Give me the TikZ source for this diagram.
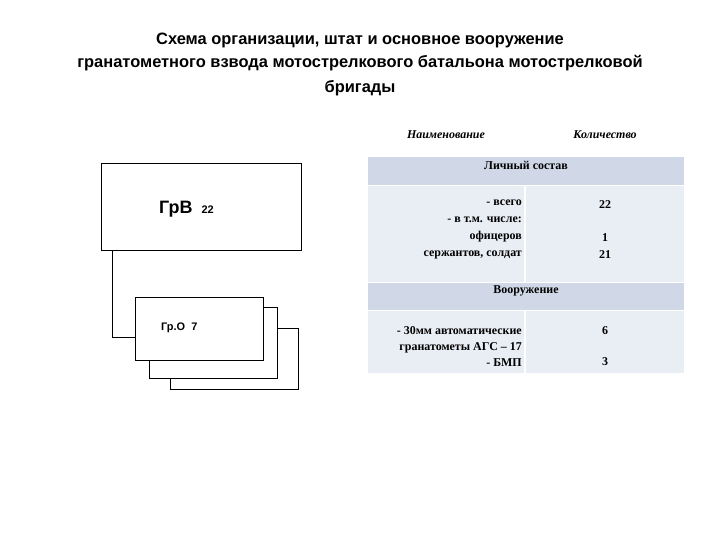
\documentclass[tikz,border=0pt]{standalone}
\usepackage{fontspec}
\setmainfont{Liberation Serif}
\newfontfamily\sansf{Liberation Sans}
\definecolor{band}{HTML}{D0D8E8}
\definecolor{cell}{HTML}{E9EDF4}
\begin{document}
\begin{tikzpicture}[x=1bp,y=-1bp,
  box/.style={draw,fill=white,line width=0.8bp},
  tt/.style={font=\fontsize{12}{14}\selectfont\bfseries,inner sep=0},
  ttl/.style={font=\sansf\bfseries\fontsize{16.5}{20}\selectfont,inner sep=0}]
\useasboundingbox (0,0) rectangle (720,540);
\node[ttl] (t1) at (360,40) {Схема организации, штат и основное вооружение};
\node[ttl] (t2) at (360,63) {гранатометного взвода мотострелкового батальона мотострелковой};
\node[ttl] (t3) at (360,88) {бригады};
% table
\fill[band] (368,157) rectangle (684,185);
\fill[cell] (368,186) rectangle (524,282);
\fill[cell] (526,186) rectangle (684,282);
\fill[band] (368,283) rectangle (684,310);
\fill[cell] (368,311) rectangle (524,373);
\fill[cell] (526,311) rectangle (684,373);
\node[tt,font=\fontsize{12}{14}\selectfont\bfseries\itshape] (h1) at (446,135) {Наименование};
\node[tt,font=\fontsize{12}{14}\selectfont\bfseries\itshape] (h2) at (605,135) {Количество};
\node[tt] (s1) at (526,165) {Личный состав};
\node[tt,align=right,anchor=north east,font=\fontsize{12}{17}\selectfont\bfseries] (r1) at (522,200) {- всего\\- в т.м. числе:\\офицеров\\сержантов, солдат};
\node[tt,align=center,anchor=north,font=\fontsize{12}{17}\selectfont\bfseries] (q1) at (605,200) {22\\\\1\\21};
\node[tt] (s2) at (526,291) {Вооружение};
\node[tt,align=right,anchor=north east,font=\fontsize{12}{16}\selectfont\bfseries] (r2) at (522,326) {- 30мм автоматические\\гранатометы АГС – 17\\- БМП};
\node[tt,align=center,anchor=north,font=\fontsize{12}{16}\selectfont\bfseries] (q2) at (605,326) {6\\\\3};
% org chart
\draw[box] (170,328) rectangle (298,389);
\draw[box] (149,307) rectangle (277,378);
\node[box,minimum width=128bp,minimum height=63bp,anchor=north west,inner sep=0] (go) at (135,297) {};
\node[box,minimum width=200bp,minimum height=87bp,anchor=north west,inner sep=0] (grv) at (101,163) {};
\node[inner sep=0,anchor=west] (l1) at (159,209) {\sansf\bfseries\fontsize{18}{20}\selectfont ГрВ\hspace{9bp}\fontsize{11}{13}\selectfont 22};
\node[inner sep=0,anchor=west] (l2) at (161,328) {\sansf\bfseries\fontsize{11}{13}\selectfont Гр.О\hspace{6bp}7};
\coordinate (c1) at (112,337);
\draw[line width=0.8bp] (grv.south west -| c1) -- (c1) -- (c1 -| go.west);
\end{tikzpicture}
\end{document}
